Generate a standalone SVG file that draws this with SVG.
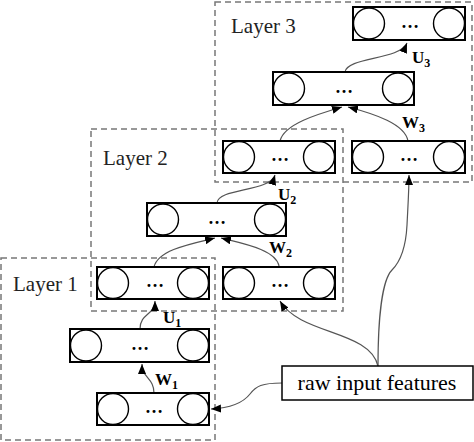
<svg xmlns="http://www.w3.org/2000/svg" width="474" height="442" viewBox="0 0 474 442">
<style>
.bg{fill:#fff}
.layer{fill:none;stroke:#777;stroke-width:1.5;stroke-dasharray:6,4}
.box{fill:#fff;stroke:#000;stroke-width:2}
.unit{fill:#fff;stroke:#000;stroke-width:1.4}
.dots{font-family:"Liberation Serif",serif;font-size:18px;font-weight:bold;text-anchor:middle;fill:#000}
.lbl{font-family:"Liberation Serif",serif;font-size:21px;fill:#222}
.wt{font-family:"Liberation Serif",serif;font-size:17px;font-weight:bold;fill:#000}
.sub{font-size:12px}
.raw{font-family:"Liberation Serif",serif;font-size:22px;text-anchor:middle;fill:#000}
.conn{fill:none;stroke:#555;stroke-width:1.2;marker-end:url(#ah)}
</style>
<defs>
<marker id="ah" markerUnits="userSpaceOnUse" markerWidth="10" markerHeight="8" refX="10" refY="4" orient="auto">
<path d="M0,0 L10,4 L0,8 z" fill="#000"/>
</marker>
</defs>
<rect class="bg" x="0" y="0" width="474" height="442"/>

<g id="layer1">
<rect class="layer" x="1" y="258" width="214" height="182"/>
<text class="lbl" x="13" y="291">Layer 1</text>
</g>
<g id="layer2">
<rect class="layer" x="91" y="129" width="252" height="182"/>
<text class="lbl" x="103" y="165">Layer 2</text>
</g>
<g id="layer3">
<rect class="layer" x="215" y="2" width="257" height="180"/>
<text class="lbl" x="231" y="33">Layer 3</text>
</g>

<g id="connectors">
<path class="conn" d="M154,393 C154,378 142,378 142,364"/>
<path class="conn" d="M140,329 C140,313 155,315 155,301"/>
<path class="conn" d="M154,267 C158,250 190,244 215,238"/>
<path class="conn" d="M279,266 C276,250 245,244 221,238"/>
<path class="conn" d="M217,203 C218,188 270,192 275,175"/>
<path class="conn" d="M280,141 C284,124 318,114 342,107"/>
<path class="conn" d="M408,141 C405,124 375,114 348,107"/>
<path class="conn" d="M345,72 C347,57 400,60 407,43"/>
<path class="conn" d="M378,366 C370,330 300,335 280,301"/>
<path class="conn" d="M378,366 C378,320 382,280 392,270 C402,260 406,245 407,225 C408,205 409,190 409,175"/>
<path class="conn" d="M282,383 C262,383 256,386 250,394 C243,403 230,408 211,409"/>
</g>

<g id="labels">
<text class="wt" x="155" y="385">W<tspan class="sub" dy="4">1</tspan></text>
<text class="wt" x="163" y="323">U<tspan class="sub" dy="4">1</tspan></text>
<text class="wt" x="269" y="253">W<tspan class="sub" dy="4">2</tspan></text>
<text class="wt" x="278" y="200">U<tspan class="sub" dy="4">2</tspan></text>
<text class="wt" x="402" y="128">W<tspan class="sub" dy="4">3</tspan></text>
<text class="wt" x="412" y="63">U<tspan class="sub" dy="4">3</tspan></text>
</g>

<g id="l1_bottom">
<rect class="box" x="97" y="393" width="112" height="32"/>
<circle class="unit" cx="113" cy="409" r="15.5"/><circle class="unit" cx="193" cy="409" r="15.5"/>
<text class="dots" x="154" y="413">…</text>
</g>
<g id="l1_middle">
<rect class="box" x="70" y="329" width="139" height="33"/>
<circle class="unit" cx="86" cy="345.5" r="15.5"/><circle class="unit" cx="193" cy="345.5" r="15.5"/>
<text class="dots" x="140" y="350">…</text>
</g>
<g id="l1_top">
<rect class="box" x="97" y="267" width="112" height="32"/>
<circle class="unit" cx="113" cy="283" r="15.5"/><circle class="unit" cx="193" cy="283" r="15.5"/>
<text class="dots" x="155" y="287">…</text>
</g>
<g id="l2_right">
<rect class="box" x="223" y="267" width="112" height="32"/>
<circle class="unit" cx="239" cy="283" r="15.5"/><circle class="unit" cx="319" cy="283" r="15.5"/>
<text class="dots" x="280" y="287">…</text>
</g>
<g id="l2_middle">
<rect class="box" x="147" y="203" width="139" height="33"/>
<circle class="unit" cx="163" cy="219.5" r="15.5"/><circle class="unit" cx="270" cy="219.5" r="15.5"/>
<text class="dots" x="217" y="224">…</text>
</g>
<g id="l2_top">
<rect class="box" x="223" y="141" width="112" height="32"/>
<circle class="unit" cx="239" cy="157" r="15.5"/><circle class="unit" cx="319" cy="157" r="15.5"/>
<text class="dots" x="280" y="161">…</text>
</g>
<g id="l3_right">
<rect class="box" x="352" y="141" width="113" height="32"/>
<circle class="unit" cx="368" cy="157" r="15.5"/><circle class="unit" cx="449" cy="157" r="15.5"/>
<text class="dots" x="409" y="161">…</text>
</g>
<g id="l3_middle">
<rect class="box" x="273" y="72" width="141" height="33"/>
<circle class="unit" cx="289" cy="88.5" r="15.5"/><circle class="unit" cx="398" cy="88.5" r="15.5"/>
<text class="dots" x="344" y="93">…</text>
</g>
<g id="l3_top">
<rect class="box" x="353" y="7" width="112" height="33"/>
<circle class="unit" cx="369" cy="23.5" r="15.5"/><circle class="unit" cx="449" cy="23.5" r="15.5"/>
<text class="dots" x="410" y="28">…</text>
</g>

<g id="raw_input">
<rect class="box" x="282" y="366" width="191" height="34" style="stroke-width:1.5"/>
<text class="raw" x="377" y="390">raw input features</text>
</g>
</svg>
